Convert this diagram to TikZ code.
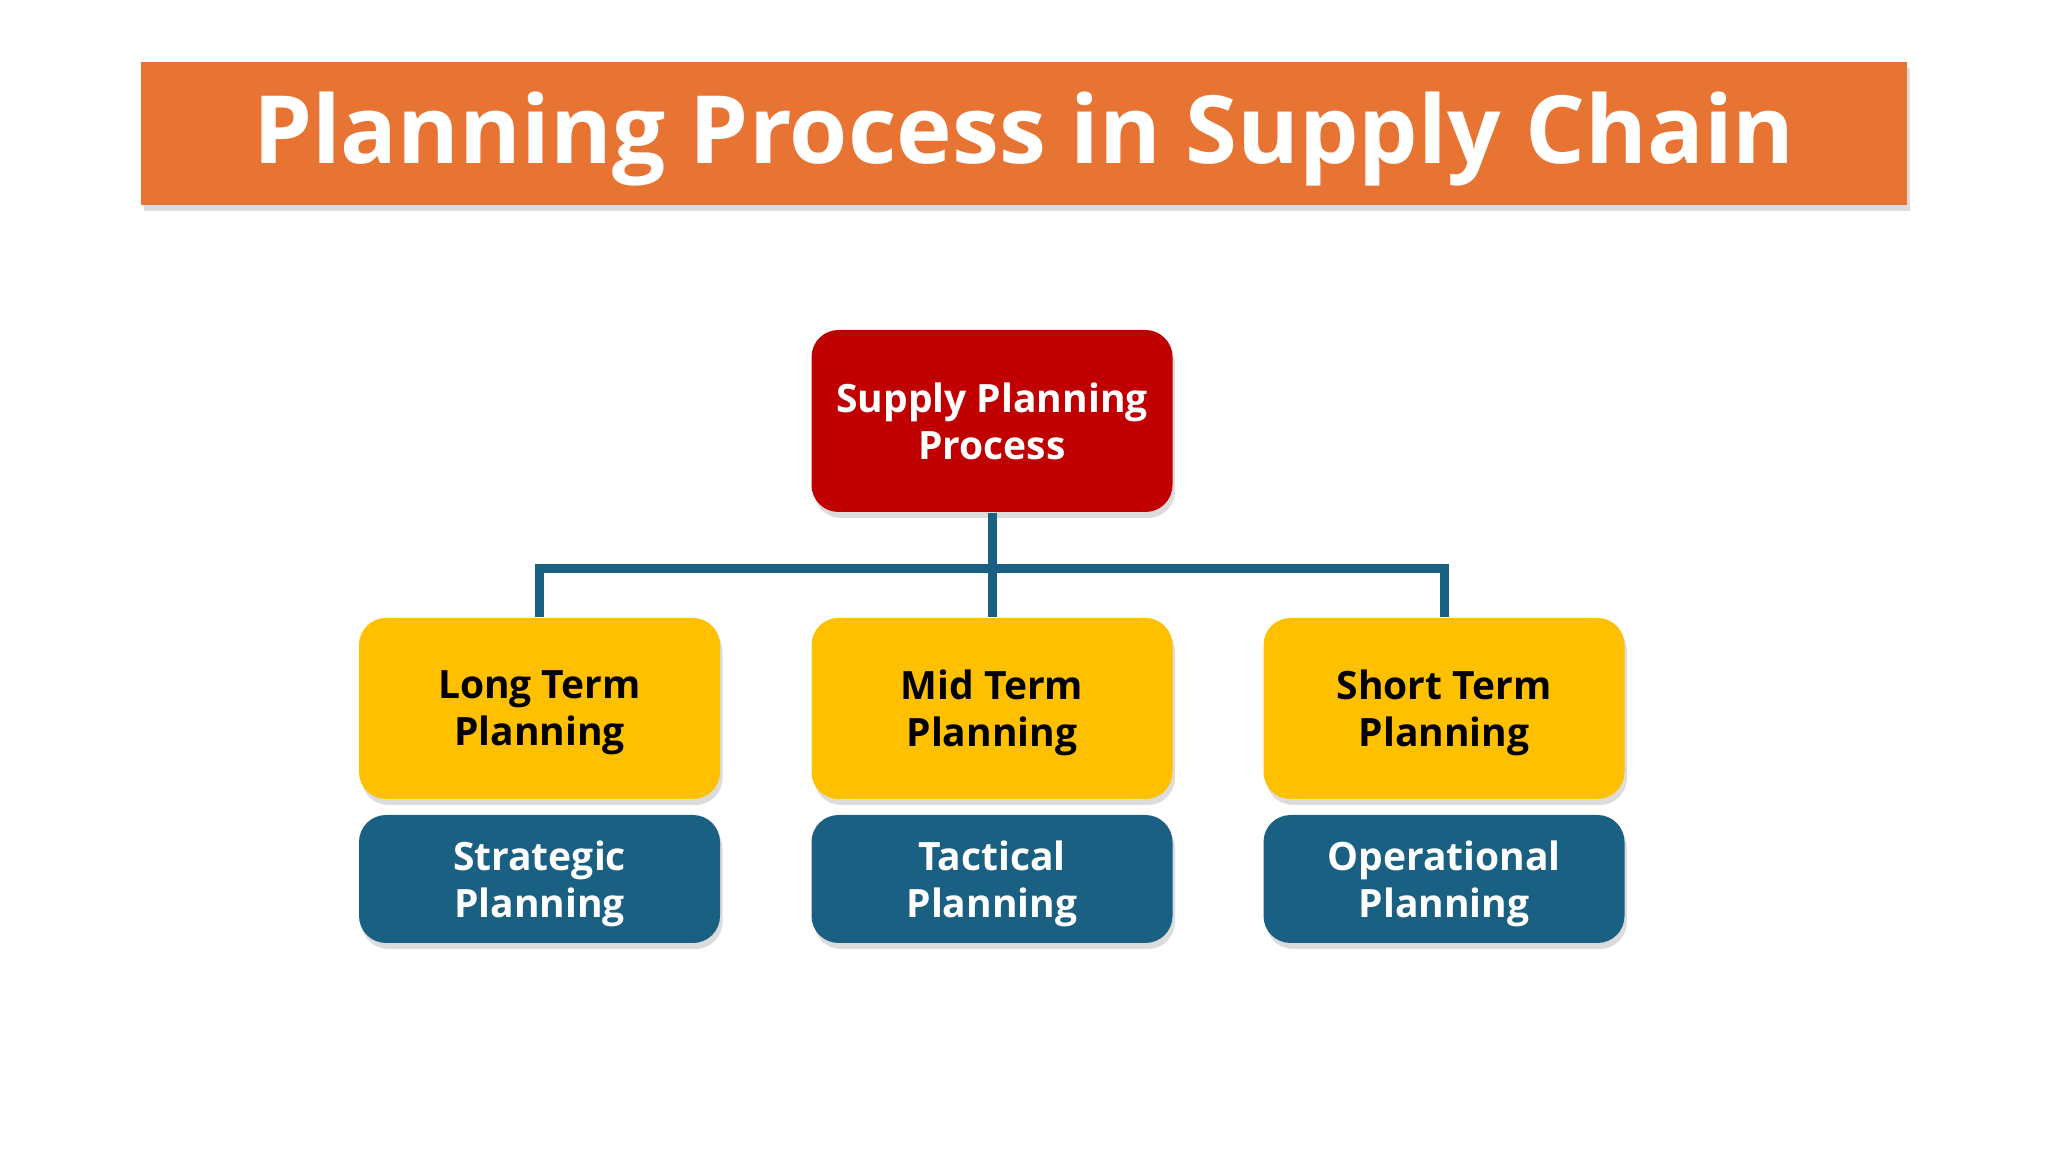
\documentclass[tikz,border=0pt]{standalone}
\usepackage{fontspec}
\setmainfont{Open Sans}
\usetikzlibrary{shadows}
\definecolor{bannerorange}{HTML}{E87433}
\definecolor{rootred}{HTML}{C00000}
\definecolor{termyellow}{HTML}{FFC000}
\definecolor{levelblue}{HTML}{1A6082}
\tikzset{every node/.style={font=\fontsize{11.1}{13.4}\selectfont\bfseries},
  softshadow/.style={drop shadow={opacity=0.28,shadow xshift=0.25mm,shadow yshift=-0.6mm}}}

\begin{document}
\begin{tikzpicture}[x=0.1mm,y=-0.1mm,
    box/.style={rounded corners=2.7mm,align=center,inner sep=0pt,
      minimum width=36.1mm,text depth=0pt,softshadow},
    rootbox/.style={box,fill=rootred,text=white,minimum height=18.2mm},
    termbox/.style={box,fill=termyellow,text=black,minimum height=18.1mm},
    levelbox/.style={box,fill=levelblue,text=white,minimum height=12.8mm},
    link/.style={draw=levelblue,line width=0.9mm}]
  \path[use as bounding box] (0,0) rectangle (2048,1152);

  % Title banner
  \node[fill=bannerorange,text=white,minimum width=176.6mm,minimum height=14.3mm,
    inner sep=0pt,text depth=3pt,softshadow,font=\fontsize{26.8}{32}\selectfont\bfseries]
    (title) at (1024,133.5) {Planning Process in Supply Chain};

  % Tree: root at the top, one column per planning horizon
  \node[rootbox] (root) at (992,421) {Supply Planning\\Process};

  \node[termbox] (long) at (539.5,708.5) {Long Term\\Planning};
  \node[termbox] (mid) at (992,708.5) {Mid Term\\Planning};
  \node[termbox] (short) at (1444,708.5) {Short Term\\Planning};

  \node[levelbox] (strategic) at (539.5,879) {Strategic\\Planning};
  \node[levelbox] (tactical) at (992,879) {Tactical\\Planning};
  \node[levelbox] (operational) at (1444,879) {Operational\\Planning};

  \coordinate (bus) at (992,569);
  \draw[link] (root.south) -- (mid.north);
  \draw[link] (long.north) |- (bus) -| (short.north);
\end{tikzpicture}
\end{document}
